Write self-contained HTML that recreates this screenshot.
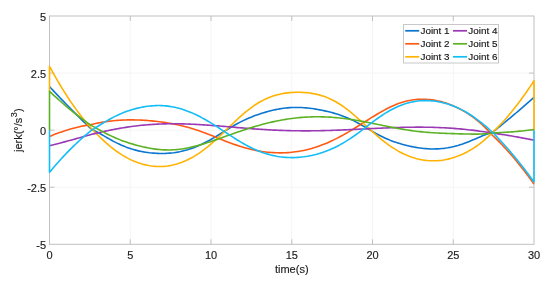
<!DOCTYPE html>
<html><head><meta charset="utf-8"><title>jerk</title>
<style>html,body{margin:0;padding:0;background:#fff}svg{display:block}</style></head>
<body>
<svg width="550" height="282" viewBox="0 0 550 282">
<rect width="550" height="282" fill="#fff"/>
<line x1="130.25" y1="16.0" x2="130.25" y2="244.3" stroke="#f5f5f5" stroke-width="1"/>
<line x1="211.00" y1="16.0" x2="211.00" y2="244.3" stroke="#f5f5f5" stroke-width="1"/>
<line x1="291.75" y1="16.0" x2="291.75" y2="244.3" stroke="#f5f5f5" stroke-width="1"/>
<line x1="372.50" y1="16.0" x2="372.50" y2="244.3" stroke="#f5f5f5" stroke-width="1"/>
<line x1="453.25" y1="16.0" x2="453.25" y2="244.3" stroke="#f5f5f5" stroke-width="1"/>
<line x1="49.5" y1="73.08" x2="534.0" y2="73.08" stroke="#f5f5f5" stroke-width="1"/>
<line x1="49.5" y1="130.15" x2="534.0" y2="130.15" stroke="#f5f5f5" stroke-width="1"/>
<line x1="49.5" y1="187.23" x2="534.0" y2="187.23" stroke="#f5f5f5" stroke-width="1"/>
<rect x="49.5" y="16.0" width="484.5" height="228.3" fill="none" stroke="#c0c0c0" stroke-width="1"/>
<line x1="130.25" y1="244.3" x2="130.25" y2="239.3" stroke="#c0c0c0" stroke-width="1"/>
<line x1="130.25" y1="16.0" x2="130.25" y2="21.0" stroke="#c0c0c0" stroke-width="1"/>
<line x1="211.00" y1="244.3" x2="211.00" y2="239.3" stroke="#c0c0c0" stroke-width="1"/>
<line x1="211.00" y1="16.0" x2="211.00" y2="21.0" stroke="#c0c0c0" stroke-width="1"/>
<line x1="291.75" y1="244.3" x2="291.75" y2="239.3" stroke="#c0c0c0" stroke-width="1"/>
<line x1="291.75" y1="16.0" x2="291.75" y2="21.0" stroke="#c0c0c0" stroke-width="1"/>
<line x1="372.50" y1="244.3" x2="372.50" y2="239.3" stroke="#c0c0c0" stroke-width="1"/>
<line x1="372.50" y1="16.0" x2="372.50" y2="21.0" stroke="#c0c0c0" stroke-width="1"/>
<line x1="453.25" y1="244.3" x2="453.25" y2="239.3" stroke="#c0c0c0" stroke-width="1"/>
<line x1="453.25" y1="16.0" x2="453.25" y2="21.0" stroke="#c0c0c0" stroke-width="1"/>
<line x1="49.5" y1="73.08" x2="54.5" y2="73.08" stroke="#c0c0c0" stroke-width="1"/>
<line x1="534.0" y1="73.08" x2="529.0" y2="73.08" stroke="#c0c0c0" stroke-width="1"/>
<line x1="49.5" y1="130.15" x2="54.5" y2="130.15" stroke="#c0c0c0" stroke-width="1"/>
<line x1="534.0" y1="130.15" x2="529.0" y2="130.15" stroke="#c0c0c0" stroke-width="1"/>
<line x1="49.5" y1="187.23" x2="54.5" y2="187.23" stroke="#c0c0c0" stroke-width="1"/>
<line x1="534.0" y1="187.23" x2="529.0" y2="187.23" stroke="#c0c0c0" stroke-width="1"/>
<g fill="none" stroke-width="1.6" stroke-linejoin="round" stroke-linecap="butt">
<path d="M49.50,86.60L51.50,88.75L53.50,90.89L55.51,93.01L57.51,95.13L59.51,97.23L61.51,99.33L63.51,101.41L65.52,103.48L67.52,105.53L69.52,107.58L71.52,109.62L73.52,111.64L75.53,113.65L77.53,115.65L79.53,117.64L81.53,119.62L83.54,121.59L85.54,123.54L87.54,125.49L89.54,127.42L91.20,129.01L91.54,129.16L93.55,130.11L95.55,131.13L97.55,132.22L99.55,133.34L101.55,134.50L103.56,135.66L105.56,136.83L107.56,137.99L109.56,139.13L111.56,140.25L113.57,141.33L115.57,142.37L117.57,143.37L119.57,144.32L121.57,145.23L123.58,146.08L125.58,146.88L127.58,147.63L129.58,148.33L131.58,148.98L133.59,149.58L135.59,150.13L137.59,150.64L139.59,151.10L141.60,151.51L143.60,151.89L145.60,152.22L147.60,152.51L149.60,152.77L151.61,152.98L153.61,153.16L155.61,153.30L157.61,153.39L159.61,153.45L161.62,153.47L163.62,153.45L165.62,153.39L167.62,153.28L169.62,153.13L171.63,152.94L173.63,152.71L175.63,152.42L177.63,152.09L179.63,151.72L181.64,151.29L183.64,150.81L185.64,150.29L187.64,149.72L189.64,149.09L191.65,148.42L193.65,147.69L195.65,146.92L197.65,146.09L199.65,145.22L201.66,144.30L203.66,143.33L205.66,142.32L207.66,141.27L209.67,140.19L211.67,139.06L213.67,137.90L215.67,136.72L217.67,135.51L219.68,134.28L221.68,133.04L223.68,131.80L225.68,130.55L227.68,129.31L229.69,128.08L231.69,126.88L233.69,125.70L235.69,124.55L237.69,123.44L239.70,122.38L241.70,121.36L243.70,120.38L245.70,119.45L247.70,118.56L249.71,117.71L251.71,116.89L253.71,116.12L255.71,115.37L257.71,114.66L259.72,113.98L261.72,113.33L263.72,112.71L265.72,112.12L267.73,111.56L269.73,111.03L271.73,110.53L273.73,110.07L275.73,109.64L277.74,109.25L279.74,108.89L281.74,108.57L283.74,108.28L285.74,108.04L287.75,107.83L289.75,107.67L291.75,107.55L293.75,107.47L295.75,107.43L297.76,107.43L299.76,107.47L301.76,107.55L303.76,107.68L305.76,107.83L307.77,108.03L309.77,108.25L311.77,108.51L313.77,108.80L315.77,109.12L317.78,109.47L319.78,109.84L321.78,110.23L323.78,110.65L325.79,111.10L327.79,111.57L329.79,112.06L331.79,112.58L333.79,113.13L335.80,113.72L337.80,114.33L339.80,114.99L341.80,115.68L343.80,116.42L345.81,117.21L347.81,118.04L349.81,118.93L351.81,119.86L353.81,120.84L355.82,121.87L357.82,122.94L359.82,124.05L361.82,125.19L363.82,126.35L365.83,127.53L367.83,128.71L369.83,129.89L371.83,131.07L373.83,132.22L375.84,133.35L377.84,134.44L379.84,135.50L381.84,136.52L383.85,137.49L385.85,138.41L387.85,139.29L389.85,140.12L391.85,140.90L393.86,141.64L395.86,142.34L397.86,142.99L399.86,143.61L401.86,144.19L403.87,144.74L405.87,145.26L407.87,145.74L409.87,146.19L411.87,146.61L413.88,147.00L415.88,147.35L417.88,147.67L419.88,147.96L421.88,148.22L423.89,148.44L425.89,148.62L427.89,148.76L429.89,148.87L431.89,148.93L433.90,148.95L435.90,148.92L437.90,148.85L439.90,148.73L441.90,148.56L443.91,148.35L445.91,148.08L447.91,147.76L449.91,147.39L451.92,146.97L453.92,146.50L455.92,145.98L457.92,145.42L459.92,144.80L461.93,144.15L463.93,143.45L465.93,142.71L467.93,141.94L469.93,141.15L471.94,140.33L473.94,139.49L475.94,138.64L477.94,137.79L479.94,136.94L481.95,136.10L483.95,135.30L485.95,134.52L487.95,133.79L489.95,133.13L491.96,132.53L492.30,132.44L493.96,131.12L495.96,129.51L497.96,127.90L499.96,126.27L501.97,124.64L503.97,123.00L505.97,121.35L507.97,119.70L509.98,118.03L511.98,116.36L513.98,114.68L515.98,112.99L517.98,111.29L519.99,109.58L521.99,107.87L523.99,106.14L525.99,104.41L527.99,102.67L530.00,100.92L532.00,99.17L534.00,97.40" stroke="#0b76d0"/>
<path d="M49.50,136.50L51.50,135.67L53.50,134.86L55.51,134.08L57.51,133.33L59.51,132.60L61.51,131.90L63.51,131.22L65.52,130.57L67.52,129.95L69.52,129.35L71.52,128.77L73.52,128.23L75.53,127.70L77.53,127.21L79.53,126.74L81.53,126.29L83.54,125.87L85.54,125.48L87.54,125.11L89.54,124.77L91.20,124.51L91.54,124.42L93.55,123.95L95.55,123.51L97.55,123.10L99.55,122.71L101.55,122.35L103.56,122.01L105.56,121.70L107.56,121.41L109.56,121.16L111.56,120.92L113.57,120.71L115.57,120.53L117.57,120.37L119.57,120.23L121.57,120.12L123.58,120.03L125.58,119.96L127.58,119.91L129.58,119.89L131.58,119.88L133.59,119.90L135.59,119.94L137.59,119.99L139.59,120.07L141.60,120.16L143.60,120.27L145.60,120.40L147.60,120.55L149.60,120.71L151.61,120.89L153.61,121.09L155.61,121.31L157.61,121.54L159.61,121.79L161.62,122.06L163.62,122.34L165.62,122.64L167.62,122.96L169.62,123.30L171.63,123.66L173.63,124.03L175.63,124.43L177.63,124.84L179.63,125.28L181.64,125.74L183.64,126.23L185.64,126.74L187.64,127.27L189.64,127.83L191.65,128.41L193.65,129.02L195.65,129.66L197.65,130.32L199.65,131.01L201.66,131.72L203.66,132.45L205.66,133.20L207.66,133.97L209.67,134.75L211.67,135.55L213.67,136.35L215.67,137.16L217.67,137.98L219.68,138.79L221.68,139.59L223.68,140.39L225.68,141.18L227.68,141.96L229.69,142.71L231.69,143.45L233.69,144.17L235.69,144.87L237.69,145.55L239.70,146.20L241.70,146.82L243.70,147.41L245.70,147.98L247.70,148.52L249.71,149.03L251.71,149.51L253.71,149.95L255.71,150.37L257.71,150.75L259.72,151.11L261.72,151.43L263.72,151.71L265.72,151.97L267.73,152.19L269.73,152.38L271.73,152.54L273.73,152.67L275.73,152.76L277.74,152.82L279.74,152.84L281.74,152.83L283.74,152.79L285.74,152.71L287.75,152.60L289.75,152.45L291.75,152.27L293.75,152.05L295.75,151.79L297.76,151.50L299.76,151.17L301.76,150.81L303.76,150.41L305.76,149.97L307.77,149.49L309.77,148.97L311.77,148.42L313.77,147.83L315.77,147.20L317.78,146.53L319.78,145.83L321.78,145.09L323.78,144.31L325.79,143.50L327.79,142.65L329.79,141.76L331.79,140.84L333.79,139.89L335.80,138.90L337.80,137.88L339.80,136.83L341.80,135.76L343.80,134.65L345.81,133.52L347.81,132.36L349.81,131.18L351.81,129.98L353.81,128.77L355.82,127.53L357.82,126.29L359.82,125.03L361.82,123.76L363.82,122.49L365.83,121.22L367.83,119.95L369.83,118.69L371.83,117.44L373.83,116.20L375.84,114.97L377.84,113.77L379.84,112.60L381.84,111.45L383.85,110.34L385.85,109.27L387.85,108.24L389.85,107.25L391.85,106.32L393.86,105.43L395.86,104.60L397.86,103.82L399.86,103.10L401.86,102.44L403.87,101.84L405.87,101.31L407.87,100.83L409.87,100.42L411.87,100.06L413.88,99.77L415.88,99.54L417.88,99.38L419.88,99.27L421.88,99.22L423.89,99.23L425.89,99.30L427.89,99.43L429.89,99.61L431.89,99.85L433.90,100.15L435.90,100.50L437.90,100.91L439.90,101.37L441.90,101.89L443.91,102.46L445.91,103.09L447.91,103.77L449.91,104.50L451.92,105.29L453.92,106.14L455.92,107.04L457.92,108.00L459.92,109.01L461.93,110.09L463.93,111.23L465.93,112.42L467.93,113.69L469.93,115.01L471.94,116.41L473.94,117.88L475.94,119.42L477.94,121.04L479.94,122.74L481.95,124.52L483.95,126.39L485.95,128.35L487.95,130.41L489.95,132.57L491.96,134.83L492.30,135.23L493.96,136.78L495.96,138.70L497.96,140.66L499.96,142.67L501.97,144.73L503.97,146.84L505.97,148.99L507.97,151.19L509.98,153.44L511.98,155.74L513.98,158.09L515.98,160.48L517.98,162.93L519.99,165.42L521.99,167.96L523.99,170.54L525.99,173.18L527.99,175.86L530.00,178.59L532.00,181.37L534.00,184.20" stroke="#ff5a14"/>
<path d="M49.50,92.00L49.50,66.30L51.50,69.99L53.50,73.61L55.51,77.15L57.51,80.62L59.51,84.02L61.51,87.35L63.51,90.61L65.52,93.79L67.52,96.90L69.52,99.94L71.52,102.90L73.52,105.80L75.53,108.62L77.53,111.37L79.53,114.04L81.53,116.65L83.54,119.18L85.54,121.64L87.54,124.03L89.54,126.34L91.20,128.21L91.54,128.57L93.55,130.67L95.55,132.73L97.55,134.76L99.55,136.75L101.55,138.68L103.56,140.56L105.56,142.39L107.56,144.16L109.56,145.86L111.56,147.50L113.57,149.07L115.57,150.57L117.57,152.01L119.57,153.37L121.57,154.67L123.58,155.90L125.58,157.05L127.58,158.14L129.58,159.16L131.58,160.11L133.59,160.99L135.59,161.80L137.59,162.55L139.59,163.23L141.60,163.85L143.60,164.40L145.60,164.89L147.60,165.31L149.60,165.67L151.61,165.97L153.61,166.20L155.61,166.36L157.61,166.46L159.61,166.49L161.62,166.46L163.62,166.36L165.62,166.19L167.62,165.96L169.62,165.66L171.63,165.28L173.63,164.84L175.63,164.34L177.63,163.76L179.63,163.11L181.64,162.39L183.64,161.60L185.64,160.74L187.64,159.81L189.64,158.81L191.65,157.75L193.65,156.61L195.65,155.40L197.65,154.13L199.65,152.79L201.66,151.39L203.66,149.92L205.66,148.39L207.66,146.81L209.67,145.16L211.67,143.47L213.67,141.72L215.67,139.93L217.67,138.10L219.68,136.23L221.68,134.34L223.68,132.42L225.68,130.48L227.68,128.54L229.69,126.60L231.69,124.67L233.69,122.75L235.69,120.85L237.69,118.98L239.70,117.15L241.70,115.37L243.70,113.63L245.70,111.95L247.70,110.33L249.71,108.78L251.71,107.29L253.71,105.87L255.71,104.52L257.71,103.25L259.72,102.06L261.72,100.94L263.72,99.90L265.72,98.94L267.73,98.05L269.73,97.23L271.73,96.49L273.73,95.82L275.73,95.21L277.74,94.67L279.74,94.19L281.74,93.77L283.74,93.41L285.74,93.10L287.75,92.84L289.75,92.63L291.75,92.47L293.75,92.36L295.75,92.29L297.76,92.26L299.76,92.28L301.76,92.34L303.76,92.45L305.76,92.60L307.77,92.80L309.77,93.05L311.77,93.35L313.77,93.70L315.77,94.11L317.78,94.58L319.78,95.11L321.78,95.70L323.78,96.36L325.79,97.09L327.79,97.88L329.79,98.75L331.79,99.69L333.79,100.71L335.80,101.80L337.80,102.96L339.80,104.20L341.80,105.51L343.80,106.90L345.81,108.35L347.81,109.87L349.81,111.45L351.81,113.08L353.81,114.77L355.82,116.50L357.82,118.28L359.82,120.08L361.82,121.91L363.82,123.75L365.83,125.61L367.83,127.46L369.83,129.30L371.83,131.13L373.83,132.93L375.84,134.70L377.84,136.43L379.84,138.12L381.84,139.76L383.85,141.35L385.85,142.89L387.85,144.36L389.85,145.78L391.85,147.14L393.86,148.43L395.86,149.66L397.86,150.83L399.86,151.93L401.86,152.96L403.87,153.94L405.87,154.84L407.87,155.68L409.87,156.46L411.87,157.17L413.88,157.82L415.88,158.40L417.88,158.92L419.88,159.38L421.88,159.77L423.89,160.10L425.89,160.36L427.89,160.56L429.89,160.70L431.89,160.78L433.90,160.79L435.90,160.74L437.90,160.63L439.90,160.46L441.90,160.22L443.91,159.92L445.91,159.56L447.91,159.14L449.91,158.65L451.92,158.10L453.92,157.49L455.92,156.81L457.92,156.08L459.92,155.27L461.93,154.41L463.93,153.48L465.93,152.48L467.93,151.42L469.93,150.29L471.94,149.09L473.94,147.82L475.94,146.48L477.94,145.08L479.94,143.60L481.95,142.04L483.95,140.41L485.95,138.70L487.95,136.92L489.95,135.05L491.96,133.10L492.30,132.76L493.96,131.17L495.96,129.19L497.96,127.16L499.96,125.07L501.97,122.93L503.97,120.72L505.97,118.46L507.97,116.15L509.98,113.77L511.98,111.34L513.98,108.85L515.98,106.30L517.98,103.70L519.99,101.04L521.99,98.32L523.99,95.54L525.99,92.71L527.99,89.82L530.00,86.87L532.00,83.86L534.00,80.80L534.00,130.15" stroke="#ffb200"/>
<path d="M49.50,145.80L51.50,145.29L53.50,144.77L55.51,144.25L57.51,143.73L59.51,143.20L61.51,142.67L63.51,142.14L65.52,141.61L67.52,141.07L69.52,140.52L71.52,139.98L73.52,139.43L75.53,138.87L77.53,138.32L79.53,137.76L81.53,137.19L83.54,136.63L85.54,136.06L87.54,135.48L89.54,134.90L91.20,134.42L91.54,134.34L93.55,133.86L95.55,133.39L97.55,132.93L99.55,132.47L101.55,132.02L103.56,131.57L105.56,131.14L107.56,130.72L109.56,130.30L111.56,129.90L113.57,129.50L115.57,129.12L117.57,128.75L119.57,128.39L121.57,128.05L123.58,127.71L125.58,127.39L127.58,127.09L129.58,126.79L131.58,126.51L133.59,126.24L135.59,125.99L137.59,125.75L139.59,125.53L141.60,125.31L143.60,125.12L145.60,124.93L147.60,124.76L149.60,124.61L151.61,124.46L153.61,124.33L155.61,124.22L157.61,124.12L159.61,124.03L161.62,123.95L163.62,123.89L165.62,123.84L167.62,123.80L169.62,123.77L171.63,123.76L173.63,123.75L175.63,123.76L177.63,123.78L179.63,123.81L181.64,123.85L183.64,123.90L185.64,123.96L187.64,124.03L189.64,124.11L191.65,124.19L193.65,124.29L195.65,124.39L197.65,124.50L199.65,124.61L201.66,124.74L203.66,124.86L205.66,125.00L207.66,125.14L209.67,125.28L211.67,125.43L213.67,125.58L215.67,125.74L217.67,125.90L219.68,126.06L221.68,126.23L223.68,126.39L225.68,126.56L227.68,126.73L229.69,126.90L231.69,127.07L233.69,127.24L235.69,127.41L237.69,127.58L239.70,127.74L241.70,127.91L243.70,128.07L245.70,128.23L247.70,128.39L249.71,128.55L251.71,128.70L253.71,128.85L255.71,128.99L257.71,129.13L259.72,129.27L261.72,129.40L263.72,129.53L265.72,129.65L267.73,129.76L269.73,129.87L271.73,129.98L273.73,130.08L275.73,130.17L277.74,130.26L279.74,130.34L281.74,130.42L283.74,130.49L285.74,130.55L287.75,130.61L289.75,130.66L291.75,130.70L293.75,130.74L295.75,130.78L297.76,130.80L299.76,130.82L301.76,130.83L303.76,130.84L305.76,130.84L307.77,130.84L309.77,130.83L311.77,130.81L313.77,130.79L315.77,130.77L317.78,130.73L319.78,130.70L321.78,130.66L323.78,130.61L325.79,130.56L327.79,130.50L329.79,130.44L331.79,130.38L333.79,130.31L335.80,130.23L337.80,130.16L339.80,130.08L341.80,130.00L343.80,129.91L345.81,129.83L347.81,129.74L349.81,129.64L351.81,129.55L353.81,129.45L355.82,129.36L357.82,129.26L359.82,129.16L361.82,129.06L363.82,128.96L365.83,128.86L367.83,128.76L369.83,128.66L371.83,128.57L373.83,128.47L375.84,128.37L377.84,128.28L379.84,128.19L381.84,128.10L383.85,128.01L385.85,127.93L387.85,127.84L389.85,127.77L391.85,127.69L393.86,127.62L395.86,127.55L397.86,127.49L399.86,127.43L401.86,127.38L403.87,127.33L405.87,127.29L407.87,127.25L409.87,127.22L411.87,127.19L413.88,127.18L415.88,127.16L417.88,127.16L419.88,127.16L421.88,127.17L423.89,127.18L425.89,127.21L427.89,127.24L429.89,127.28L431.89,127.32L433.90,127.38L435.90,127.44L437.90,127.52L439.90,127.60L441.90,127.69L443.91,127.79L445.91,127.90L447.91,128.01L449.91,128.14L451.92,128.28L453.92,128.42L455.92,128.58L457.92,128.74L459.92,128.91L461.93,129.10L463.93,129.29L465.93,129.49L467.93,129.71L469.93,129.93L471.94,130.16L473.94,130.40L475.94,130.65L477.94,130.91L479.94,131.18L481.95,131.46L483.95,131.74L485.95,132.04L487.95,132.34L489.95,132.66L491.96,132.98L492.30,133.03L493.96,133.27L495.96,133.55L497.96,133.85L499.96,134.15L501.97,134.45L503.97,134.76L505.97,135.08L507.97,135.41L509.98,135.74L511.98,136.07L513.98,136.42L515.98,136.77L517.98,137.12L519.99,137.49L521.99,137.86L523.99,138.23L525.99,138.61L527.99,139.00L530.00,139.39L532.00,139.79L534.00,140.20" stroke="#9a38b5"/>
<path d="M49.50,130.15L49.50,91.30L51.50,93.19L53.50,95.06L55.51,96.90L57.51,98.71L59.51,100.50L61.51,102.27L63.51,104.00L65.52,105.72L67.52,107.40L69.52,109.06L71.52,110.70L73.52,112.31L75.53,113.89L77.53,115.45L79.53,116.99L81.53,118.49L83.54,119.98L85.54,121.43L87.54,122.86L89.54,124.27L91.20,125.42L91.54,125.59L93.55,126.66L95.55,127.75L97.55,128.85L99.55,129.95L101.55,131.04L103.56,132.12L105.56,133.18L107.56,134.20L109.56,135.20L111.56,136.15L113.57,137.08L115.57,137.96L117.57,138.81L119.57,139.62L121.57,140.39L123.58,141.13L125.58,141.84L127.58,142.52L129.58,143.17L131.58,143.79L133.59,144.38L135.59,144.95L137.59,145.49L139.59,146.01L141.60,146.50L143.60,146.97L145.60,147.40L147.60,147.81L149.60,148.19L151.61,148.54L153.61,148.85L155.61,149.13L157.61,149.37L159.61,149.57L161.62,149.73L163.62,149.85L165.62,149.92L167.62,149.96L169.62,149.95L171.63,149.90L173.63,149.80L175.63,149.67L177.63,149.49L179.63,149.26L181.64,149.00L183.64,148.70L185.64,148.36L187.64,147.98L189.64,147.57L191.65,147.13L193.65,146.65L195.65,146.14L197.65,145.61L199.65,145.05L201.66,144.46L203.66,143.86L205.66,143.23L207.66,142.59L209.67,141.93L211.67,141.25L213.67,140.57L215.67,139.87L217.67,139.17L219.68,138.46L221.68,137.75L223.68,137.03L225.68,136.32L227.68,135.60L229.69,134.89L231.69,134.18L233.69,133.47L235.69,132.77L237.69,132.08L239.70,131.39L241.70,130.71L243.70,130.05L245.70,129.39L247.70,128.74L249.71,128.11L251.71,127.49L253.71,126.88L255.71,126.29L257.71,125.71L259.72,125.15L261.72,124.60L263.72,124.06L265.72,123.55L267.73,123.05L269.73,122.56L271.73,122.10L273.73,121.65L275.73,121.22L277.74,120.81L279.74,120.42L281.74,120.05L283.74,119.69L285.74,119.36L287.75,119.04L289.75,118.75L291.75,118.47L293.75,118.22L295.75,117.98L297.76,117.77L299.76,117.58L301.76,117.41L303.76,117.25L305.76,117.12L307.77,117.01L309.77,116.93L311.77,116.86L313.77,116.81L315.77,116.78L317.78,116.78L319.78,116.79L321.78,116.83L323.78,116.88L325.79,116.96L327.79,117.05L329.79,117.17L331.79,117.30L333.79,117.45L335.80,117.62L337.80,117.81L339.80,118.02L341.80,118.24L343.80,118.48L345.81,118.74L347.81,119.01L349.81,119.30L351.81,119.60L353.81,119.91L355.82,120.24L357.82,120.58L359.82,120.93L361.82,121.29L363.82,121.66L365.83,122.04L367.83,122.42L369.83,122.81L371.83,123.21L373.83,123.62L375.84,124.02L377.84,124.43L379.84,124.84L381.84,125.25L383.85,125.66L385.85,126.07L387.85,126.47L389.85,126.87L391.85,127.26L393.86,127.64L395.86,128.02L397.86,128.39L399.86,128.75L401.86,129.10L403.87,129.44L405.87,129.76L407.87,130.07L409.87,130.37L411.87,130.66L413.88,130.93L415.88,131.18L417.88,131.42L419.88,131.65L421.88,131.86L423.89,132.05L425.89,132.23L427.89,132.40L429.89,132.55L431.89,132.69L433.90,132.82L435.90,132.93L437.90,133.04L439.90,133.13L441.90,133.22L443.91,133.30L445.91,133.38L447.91,133.45L449.91,133.52L451.92,133.59L453.92,133.65L455.92,133.71L457.92,133.77L459.92,133.83L461.93,133.88L463.93,133.94L465.93,133.99L467.93,134.03L469.93,134.07L471.94,134.10L473.94,134.12L475.94,134.13L477.94,134.11L479.94,134.07L481.95,134.00L483.95,133.90L485.95,133.76L487.95,133.57L489.95,133.33L491.96,133.02L492.30,132.96L493.96,132.91L495.96,132.83L497.96,132.74L499.96,132.64L501.97,132.53L503.97,132.42L505.97,132.29L507.97,132.15L509.98,132.01L511.98,131.85L513.98,131.69L515.98,131.51L517.98,131.33L519.99,131.13L521.99,130.93L523.99,130.71L525.99,130.49L527.99,130.26L530.00,130.01L532.00,129.76L534.00,129.50" stroke="#5cb224"/>
<path d="M49.50,130.15L49.50,172.30L51.50,169.90L53.50,167.55L55.51,165.23L57.51,162.95L59.51,160.72L61.51,158.52L63.51,156.36L65.52,154.24L67.52,152.16L69.52,150.12L71.52,148.12L73.52,146.15L75.53,144.23L77.53,142.35L79.53,140.50L81.53,138.70L83.54,136.93L85.54,135.21L87.54,133.52L89.54,131.87L91.20,130.54L91.54,130.33L93.55,129.07L95.55,127.80L97.55,126.53L99.55,125.26L101.55,124.01L103.56,122.78L105.56,121.57L107.56,120.40L109.56,119.27L111.56,118.18L113.57,117.13L115.57,116.12L117.57,115.17L119.57,114.26L121.57,113.39L123.58,112.58L125.58,111.81L127.58,111.08L129.58,110.41L131.58,109.77L133.59,109.18L135.59,108.63L137.59,108.13L139.59,107.67L141.60,107.25L143.60,106.88L145.60,106.55L147.60,106.26L149.60,106.03L151.61,105.84L153.61,105.69L155.61,105.60L157.61,105.55L159.61,105.56L161.62,105.62L163.62,105.72L165.62,105.88L167.62,106.10L169.62,106.36L171.63,106.68L173.63,107.05L175.63,107.48L177.63,107.95L179.63,108.48L181.64,109.07L183.64,109.70L185.64,110.39L187.64,111.13L189.64,111.91L191.65,112.74L193.65,113.63L195.65,114.55L197.65,115.52L199.65,116.54L201.66,117.59L203.66,118.68L205.66,119.81L207.66,120.97L209.67,122.16L211.67,123.38L213.67,124.63L215.67,125.90L217.67,127.18L219.68,128.48L221.68,129.80L223.68,131.12L225.68,132.44L227.68,133.77L229.69,135.09L231.69,136.39L233.69,137.69L235.69,138.96L237.69,140.21L239.70,141.43L241.70,142.62L243.70,143.77L245.70,144.88L247.70,145.95L249.71,146.98L251.71,147.97L253.71,148.91L255.71,149.80L257.71,150.64L259.72,151.44L261.72,152.19L263.72,152.89L265.72,153.54L267.73,154.14L269.73,154.69L271.73,155.19L273.73,155.65L275.73,156.06L277.74,156.42L279.74,156.73L281.74,156.99L283.74,157.21L285.74,157.37L287.75,157.50L289.75,157.57L291.75,157.60L293.75,157.58L295.75,157.52L297.76,157.41L299.76,157.26L301.76,157.06L303.76,156.82L305.76,156.53L307.77,156.21L309.77,155.83L311.77,155.41L313.77,154.95L315.77,154.45L317.78,153.90L319.78,153.31L321.78,152.67L323.78,151.99L325.79,151.26L327.79,150.49L329.79,149.68L331.79,148.81L333.79,147.90L335.80,146.94L337.80,145.93L339.80,144.88L341.80,143.77L343.80,142.62L345.81,141.41L347.81,140.16L349.81,138.87L351.81,137.53L353.81,136.15L355.82,134.73L357.82,133.28L359.82,131.80L361.82,130.30L363.82,128.78L365.83,127.25L367.83,125.72L369.83,124.20L371.83,122.68L373.83,121.19L375.84,119.72L377.84,118.27L379.84,116.87L381.84,115.51L383.85,114.19L385.85,112.92L387.85,111.71L389.85,110.55L391.85,109.46L393.86,108.42L395.86,107.45L397.86,106.53L399.86,105.69L401.86,104.91L403.87,104.19L405.87,103.54L407.87,102.96L409.87,102.44L411.87,101.98L413.88,101.59L415.88,101.27L417.88,101.00L419.88,100.80L421.88,100.66L423.89,100.58L425.89,100.56L427.89,100.60L429.89,100.69L431.89,100.84L433.90,101.05L435.90,101.31L437.90,101.63L439.90,102.01L441.90,102.44L443.91,102.92L445.91,103.47L447.91,104.06L449.91,104.72L451.92,105.43L453.92,106.19L455.92,107.02L457.92,107.90L459.92,108.85L461.93,109.85L463.93,110.91L465.93,112.04L467.93,113.22L469.93,114.47L471.94,115.77L473.94,117.13L475.94,118.55L477.94,120.03L479.94,121.56L481.95,123.15L483.95,124.79L485.95,126.48L487.95,128.21L489.95,129.99L491.96,131.80L492.30,132.12L493.96,133.80L495.96,135.87L497.96,137.97L499.96,140.10L501.97,142.28L503.97,144.49L505.97,146.73L507.97,149.01L509.98,151.33L511.98,153.69L513.98,156.08L515.98,158.51L517.98,160.97L519.99,163.47L521.99,166.01L523.99,168.58L525.99,171.19L527.99,173.84L530.00,176.52L532.00,179.24L534.00,182.00L534.00,130.15" stroke="#12bdf8"/>
</g>
<g font-family="Liberation Sans, Arial, sans-serif" font-size="11" fill="#1c1c1c" stroke="#1c1c1c" stroke-width="0.15">
<text x="49.50" y="258.5" text-anchor="middle">0</text>
<text x="130.25" y="258.5" text-anchor="middle">5</text>
<text x="211.00" y="258.5" text-anchor="middle">10</text>
<text x="291.75" y="258.5" text-anchor="middle">15</text>
<text x="372.50" y="258.5" text-anchor="middle">20</text>
<text x="453.25" y="258.5" text-anchor="middle">25</text>
<text x="534.00" y="258.5" text-anchor="middle">30</text>
<text x="46.1" y="20.80" text-anchor="end">5</text>
<text x="46.1" y="77.88" text-anchor="end">2.5</text>
<text x="46.1" y="134.95" text-anchor="end">0</text>
<text x="46.1" y="192.03" text-anchor="end">-2.5</text>
<text x="46.1" y="249.10" text-anchor="end">-5</text>
<text x="291.75" y="273" text-anchor="middle">time(s)</text>
<text transform="translate(22.4,130.15) rotate(-90)" text-anchor="middle">jerk(°/s<tspan font-size="9" dy="-5.4" dx="0.4">3</tspan><tspan dy="5.4" dx="0.4">)</tspan></text>
</g>
<rect x="403.5" y="24.5" width="95" height="38.5" fill="#fff" stroke="#c8c8c8" stroke-width="1"/>
<g font-family="Liberation Sans, Arial, sans-serif" font-size="9.9" fill="#151515" stroke="#151515" stroke-width="0.15">
<line x1="405.2" y1="30.8" x2="419.2" y2="30.8" stroke="#0b76d0" stroke-width="1.7"/>
<text x="420.5" y="33.8">Joint 1</text>
<line x1="405.2" y1="43.8" x2="419.2" y2="43.8" stroke="#ff5a14" stroke-width="1.7"/>
<text x="420.5" y="46.8">Joint 2</text>
<line x1="405.2" y1="56.8" x2="419.2" y2="56.8" stroke="#ffb200" stroke-width="1.7"/>
<text x="420.5" y="59.8">Joint 3</text>
<line x1="453.0" y1="30.8" x2="467.0" y2="30.8" stroke="#9a38b5" stroke-width="1.7"/>
<text x="468.3" y="33.8">Joint 4</text>
<line x1="453.0" y1="43.8" x2="467.0" y2="43.8" stroke="#5cb224" stroke-width="1.7"/>
<text x="468.3" y="46.8">Joint 5</text>
<line x1="453.0" y1="56.8" x2="467.0" y2="56.8" stroke="#12bdf8" stroke-width="1.7"/>
<text x="468.3" y="59.8">Joint 6</text>
</g>
</svg>
</body></html>
